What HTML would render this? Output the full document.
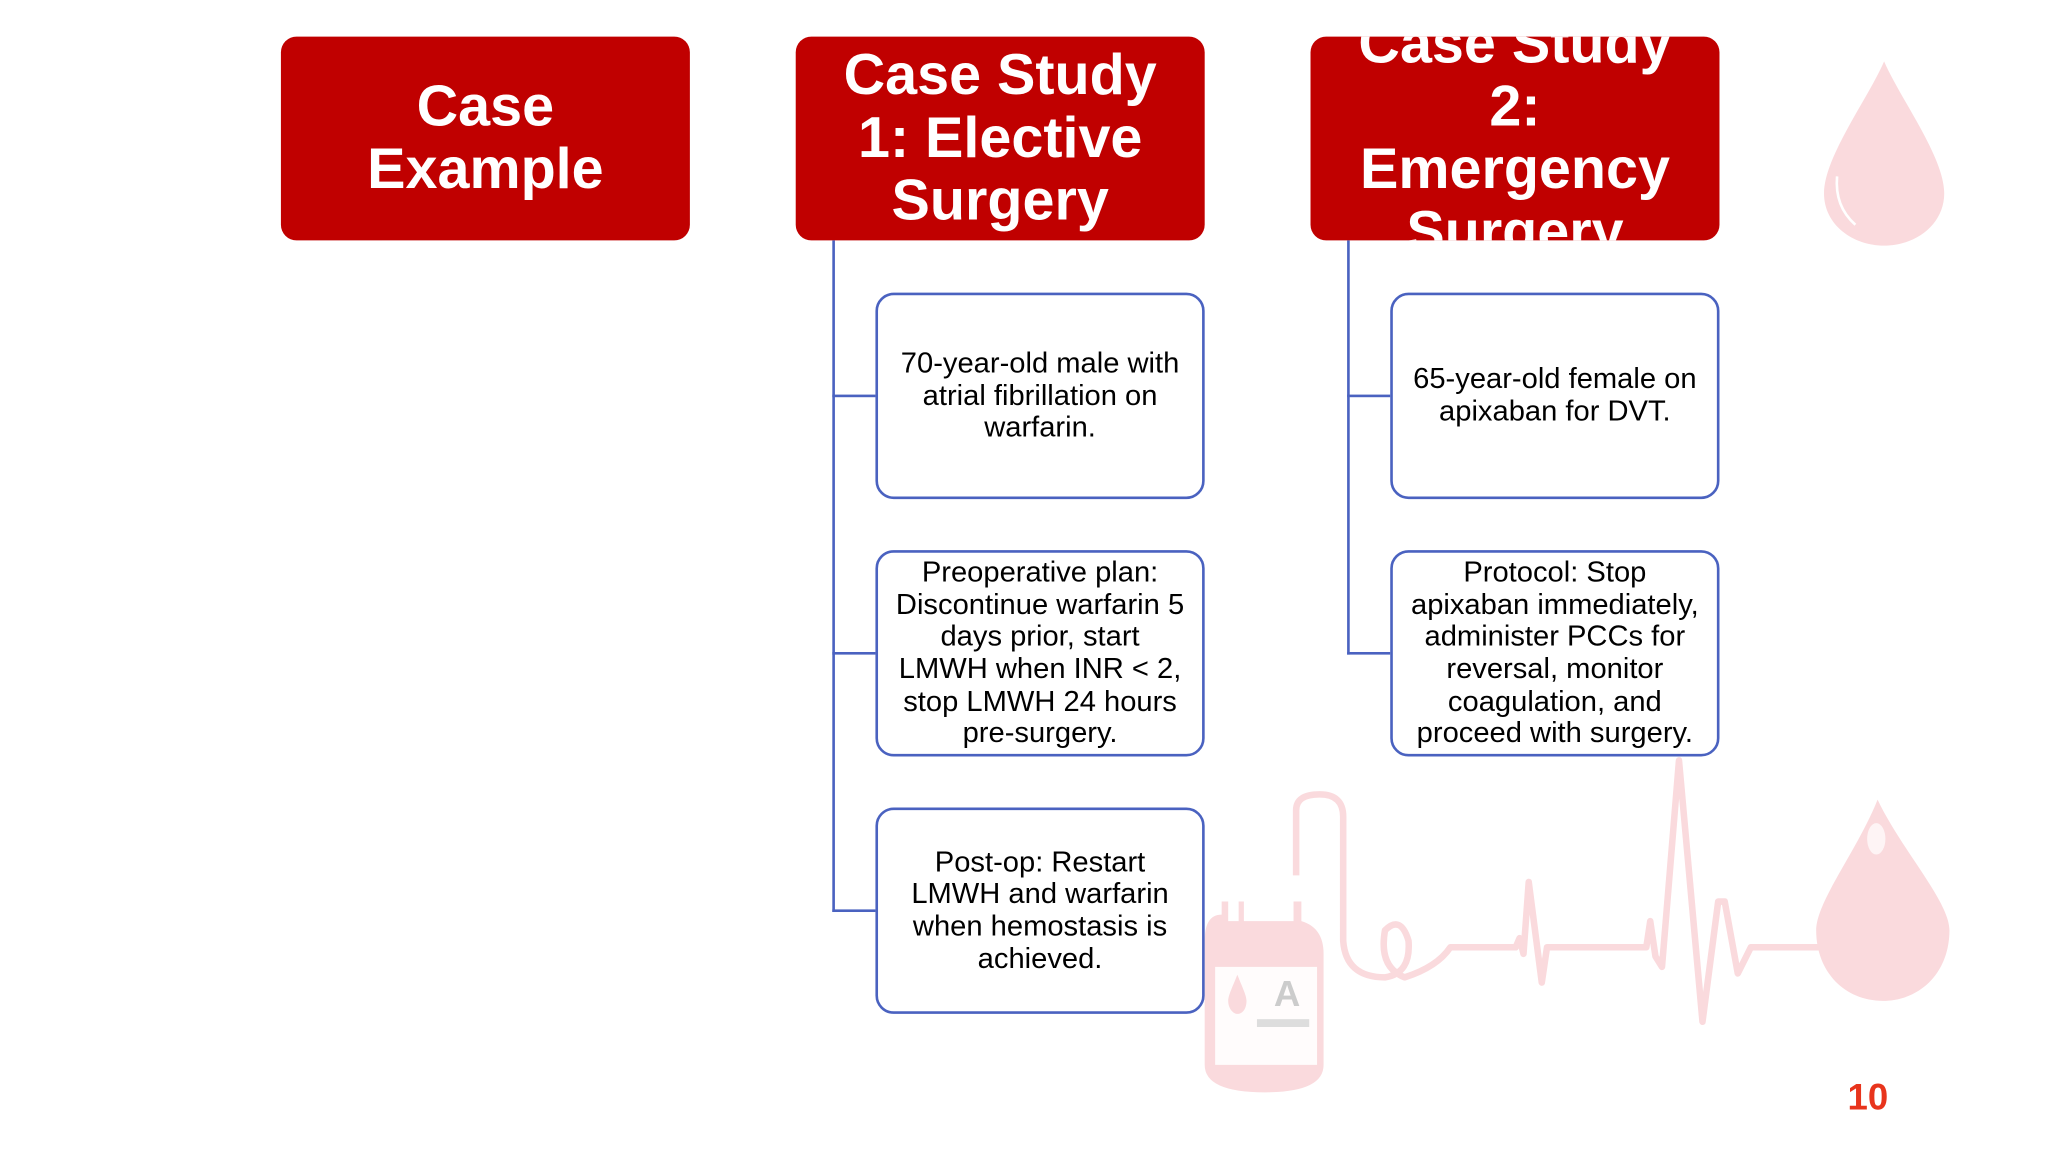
<!DOCTYPE html>
<html><head><meta charset="utf-8"><style>
html,body{margin:0;padding:0;background:#fff;overflow:hidden}
#w{position:absolute;left:0;top:0;width:1568px;height:882px;transform:scale(1.3066);transform-origin:0 0;font-family:"Liberation Sans",Arial,sans-serif}
.h{position:absolute;top:28px;width:313px;height:156px;background:#c00000;border-radius:12px;color:#fff;font-weight:bold;font-size:44px;line-height:48px;text-align:center;display:flex;align-items:center;justify-content:center;overflow:hidden}
.c{position:absolute;width:248px;height:154px;border:2px solid #4a62c0;border-radius:14px;background:#fff;color:#000;font-size:22.3px;line-height:24.6px;text-align:center;display:flex;align-items:center;justify-content:center;box-sizing:content-box}
.c div{width:226px}
.l{position:absolute;background:#4a62c0}
</style></head><body><div id="w">
<svg width="1568" height="882" style="position:absolute;left:0;top:0">
<g fill="#fadadd">
<path d="M1442 47 C1430 75 1396 120 1396 148 C1396 172 1418 188 1442 188 C1466 188 1488 172 1488 148 C1488 120 1454 75 1442 47Z"/>
<path d="M1437 612 C1422 650 1390 690 1390 712 C1390 744 1412 766 1441 766 C1470 766 1492 744 1492 712 C1492 690 1455 650 1437 612Z"/>
<path d="M922 720 Q922 700 935 700 L935 690 L940 690 L940 705 L948 705 L948 690 L952 690 L952 705 L990 705 L990 690 L996 690 L996 705 Q1013 710 1013 730 L1013 815 Q1013 836 968 836 Q922 836 922 815Z"/>
</g>
<path d="M1406 135 Q1404 158 1420 172" fill="none" stroke="#fff" stroke-width="2"/>
<ellipse cx="1436" cy="642" rx="7" ry="12" fill="#fff" opacity=".7"/>
<rect x="930" y="740" width="78" height="75" fill="#fff" opacity=".9"/>
<path d="M947 746 C943 756 940 762 940 766 C940 772 944 776 947 776 C951 776 954 772 954 766 C954 762 951 756 947 746Z" fill="#fadadd"/>
<text x="975" y="770" font-size="28" font-weight="bold" fill="#ccc" font-family="Liberation Sans">A</text>
<rect x="962" y="780" width="40" height="6" fill="#ddd"/>
<path d="M992 670 L992 620 Q992 608 1010 608 Q1028 608 1028 625 L1028 720 Q1030 748 1060 748 Q1080 745 1078 720 Q1072 700 1060 712 Q1055 740 1075 748 Q1100 740 1110 725 L1160 725 L1163 718 L1166 730 L1170 675 L1180 752 L1184 725 L1260 725 L1263 705 L1267 732 L1272 740 L1285 582 L1303 782 L1315 690 L1320 690 L1330 745 L1340 725 L1392 725" fill="none" stroke="#fadadd" stroke-width="5" stroke-linejoin="round"/>
</svg>
<div class="h" style="left:215px">Case<br>Example</div>
<div class="h" style="left:609px">Case Study<br>1: Elective<br>Surgery</div>
<div class="h" style="left:1003px">Case Study<br>2:<br>Emergency<br>Surgery</div>
<div class="l" style="left:637px;top:184px;width:2px;height:514px"></div>
<div class="l" style="left:637px;top:302px;width:33px;height:2px"></div>
<div class="l" style="left:637px;top:499px;width:33px;height:2px"></div>
<div class="l" style="left:637px;top:696px;width:33px;height:2px"></div>
<div class="l" style="left:1031px;top:184px;width:2px;height:317px"></div>
<div class="l" style="left:1031px;top:302px;width:33px;height:2px"></div>
<div class="l" style="left:1031px;top:499px;width:33px;height:2px"></div>
<div class="c" style="left:670px;top:224px"><div>70-year-old male with atrial fibrillation on warfarin.</div></div>
<div class="c" style="left:670px;top:421px"><div>Preoperative plan: Discontinue warfarin 5 days prior, start LMWH when INR &lt; 2, stop LMWH 24 hours pre-surgery.</div></div>
<div class="c" style="left:670px;top:618px"><div>Post-op: Restart LMWH and warfarin when hemostasis is achieved.</div></div>
<div class="c" style="left:1064px;top:224px"><div>65-year-old female on apixaban for DVT.</div></div>
<div class="c" style="left:1064px;top:421px"><div>Protocol: Stop apixaban immediately, administer PCCs for reversal, monitor coagulation, and proceed with surgery.</div></div>
<div style="position:absolute;left:1414px;top:824px;font-size:28px;font-weight:bold;color:#e8341c">10</div>
</div></body></html>
